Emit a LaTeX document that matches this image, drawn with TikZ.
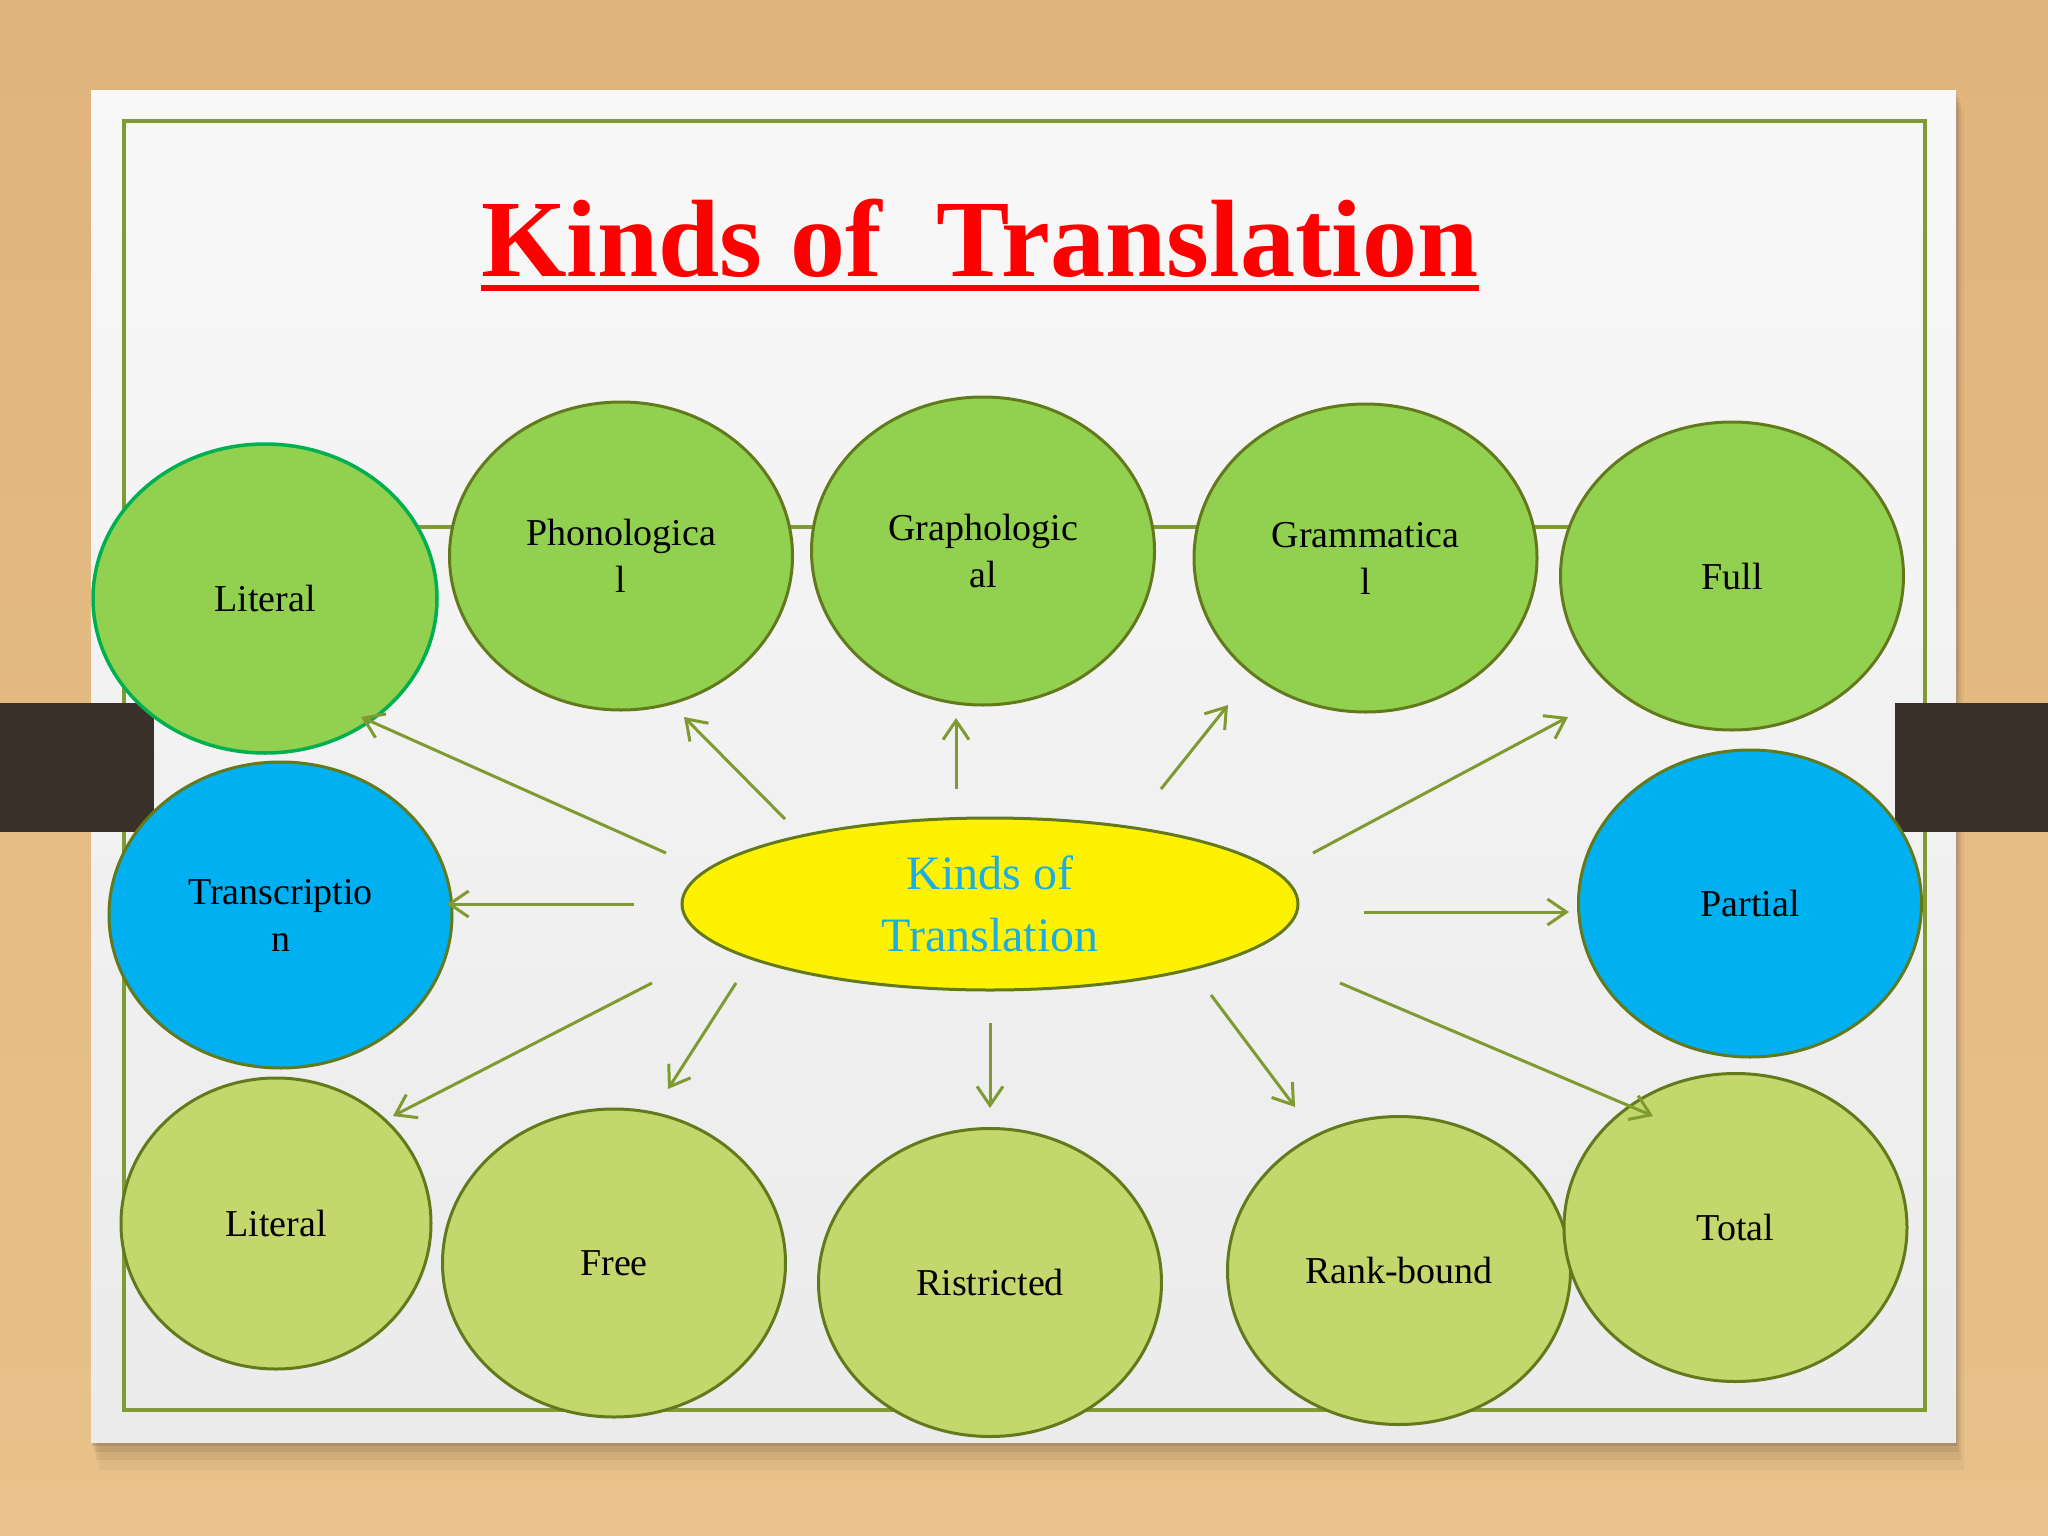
\documentclass[tikz,border=0pt]{standalone}
\usepackage{fontspec}
\setmainfont{Liberation Serif}
\usetikzlibrary{shapes.geometric,arrows.meta}
\definecolor{wood}{HTML}{E8C28A}
\definecolor{woodtop}{HTML}{E0B47C}
\definecolor{cardc}{HTML}{F3F3F3}
\definecolor{cardb}{HTML}{EBEBEB}
\definecolor{framec}{HTML}{809A34}
\definecolor{barc}{HTML}{3A3029}
\definecolor{topgreen}{HTML}{92D050}
\definecolor{botgreen}{HTML}{C3D76C}
\definecolor{bluec}{HTML}{00B0F0}
\definecolor{olivedge}{HTML}{637A1C}
\definecolor{greenedge}{HTML}{00B050}
\definecolor{arrowc}{HTML}{7F9A30}
\definecolor{cyantext}{HTML}{1AAEE4}
\tikzset{
  kind/.style={ellipse, draw=olivedge, line width=3pt, inner sep=0pt,
    minimum width=343pt, minimum height=308pt, align=center,
    font=\fontsize{38}{47}\selectfont, text=black},
  topk/.style={kind, fill=topgreen},
  botk/.style={kind, fill=botgreen},
  bluek/.style={kind, fill=bluec},
  arr/.style={draw=arrowc, line width=3pt, -{Straight Barb[length=19pt,width=26pt]}},
}
\begin{document}
\begin{tikzpicture}[x=1pt,y=-1pt]
\useasboundingbox (0,0) rectangle (2048,1536);
% wood background
\shade[top color=woodtop, bottom color=wood] (0,0) rectangle (2048,1536);
% shadow of card
\foreach \o/\a in {4/0.10,10/0.08,18/0.06,28/0.04} {
  \fill[black, opacity=\a] (91+\o*0.3,91+\o*0.6) rectangle (1956+\o*0.3,1442+\o);
}
% card
\shade[top color=cardc!60!white, bottom color=cardb] (91,91) rectangle (1956,1442);
% inner frame
\draw[framec, line width=4pt] (124,121) rectangle (1925,1410);
% bars
\fill[barc] (0,703) rectangle (154,832);
\fill[barc] (1895,703) rectangle (2048,832);
% title
\node[anchor=base, inner sep=0pt, text=red, font=\fontsize{110}{120}\selectfont\bfseries] (title) at (980,276) {Kinds of\ \ Translation};
\draw[red, line width=6pt] ([yshift=-12pt]title.base west) -- ([yshift=-12pt]title.base east);
% line across top row (behind)
\coordinate (tlL) at (300,527);
\coordinate (tlR) at (1700,527);
\draw[framec, line width=4pt] (tlL) -- (tlR);
% ellipses
\node[topk, draw=greenedge, line width=3.5pt, minimum width=344pt, minimum height=309pt] (lit1) at (265,598.5) {Literal};
\node[topk] (phon) at (621,556) {Phonologica\\l};
\node[topk] (graph) at (983,551) {Graphologic\\al};
\node[topk] (gram) at (1365.5,558) {Grammatica\\l};
\node[topk] (full) at (1732,576) {Full};
\node[bluek, minimum height=306pt] (transc) at (280.5,915) {Transcriptio\\n};
\node[bluek, minimum height=307pt] (partial) at (1750,903.5) {Partial};
\node[botk, minimum width=310pt, minimum height=291pt] (lit2) at (276,1223.5) {Literal};
\node[botk] (free) at (614,1263) {Free};
\node[botk] (restr) at (990,1282.5) {Ristricted};
\node[botk] (rank) at (1399,1270.5) {Rank-bound};
\node[botk] (total) at (1735.5,1227.5) {Total};
% central
\node[ellipse, draw=olivedge, line width=3pt, fill=yellow, inner sep=0pt,
  minimum width=616pt, minimum height=172pt, align=center,
  font=\fontsize{48}{62}\selectfont, text=cyantext] (kinds) at (990,904) {Kinds of\\Translation};
% arrow end points
\coordinate (s1) at (666,853);  \coordinate (e1) at (361,717);
\coordinate (s2) at (785,819);  \coordinate (e2) at (684,717);
\coordinate (s3) at (956,789);  \coordinate (e3) at (956,718);
\coordinate (s4) at (1161,789); \coordinate (e4) at (1228,705);
\coordinate (s5) at (1313,853); \coordinate (e5) at (1568,717);
\coordinate (s6) at (634,904);  \coordinate (e6) at (447,904);
\coordinate (s7) at (1364,912); \coordinate (e7) at (1569,912);
\coordinate (s8) at (652,983);  \coordinate (e8) at (393,1116);
\coordinate (s9) at (736,983);  \coordinate (e9) at (668,1089);
\coordinate (s10) at (990,1023); \coordinate (e10) at (990,1108);
\coordinate (s11) at (1211,995); \coordinate (e11) at (1295,1107);
\coordinate (s12) at (1340,983); \coordinate (e12) at (1653,1116);
\foreach \i in {1,...,12} { \draw[arr] (s\i) -- (e\i); }
\end{tikzpicture}
\end{document}
